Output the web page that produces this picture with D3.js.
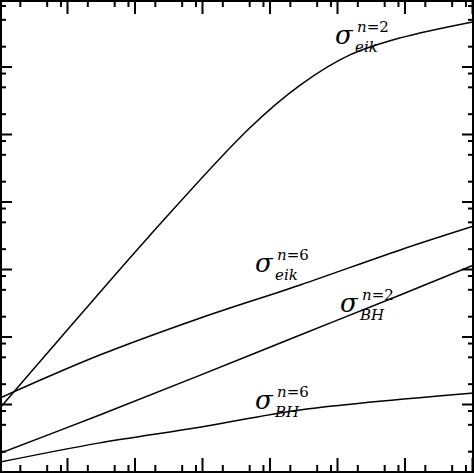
<!DOCTYPE html><html><head><script src="https://cdn.jsdelivr.net/npm/d3@7"></script>
<style>body{margin:0;background:#fff}</style></head><body><svg id="c" width="474" height="474"></svg><script>
const eik2X=[1,5.5,166,5000,2.8e4,1.5e5,8.5e5,1.05e7], eik2Y=[8.9,64,3200,1.25e5,5.4e5,1.5e6,2.7e6,4.7e6];
const eik6X=[1,30,910,2.8e4,8.5e5,1.05e7], eik6Y=[12.5,54,190,590,1950,4400];
const bh2X=[1,30,910,2.8e4,8.5e5,1.05e7], bh2Y=[1.9,7,27,107,420,1170];
const bh6X=[1,30,910,2.8e4,1.05e7], bh6Y=[1.4,2.7,4.6,8.3,14.8];
const labels=[{n:"2",s:"eik",x:335,y:44},{n:"6",s:"eik",x:255,y:272},{n:"2",s:"BH",x:340,y:312},{n:"6",s:"BH",x:255,y:409}];
const svg=d3.select("#c");
const x=d3.scaleLog().domain([1,1e7]).range([0,472.5]);
const y=d3.scaleLog().domain([1,1e7]).range([472,-0.5]);
const ticks=[];for(let e=0;e<7;e++)for(const m of [1,2,5,8])ticks.push(m*10**e);
ticks.push(1e7);
const isMaj=v=>Math.abs(Math.log10(v)%1)<1e-9;
svg.append("g").selectAll("line").data(ticks).join("line").attr("x1",d=>x(d)).attr("x2",d=>x(d)).attr("y1",472).attr("y2",d=>isMaj(d)?458:465).attr("stroke","#000").attr("stroke-width",2);
svg.append("g").selectAll("line").data(ticks).join("line").attr("x1",d=>x(d)).attr("x2",d=>x(d)).attr("y1",0).attr("y2",d=>isMaj(d)?14:7).attr("stroke","#000").attr("stroke-width",2);
svg.append("g").selectAll("line").data(ticks).join("line").attr("y1",d=>y(d)).attr("y2",d=>y(d)).attr("x1",0).attr("x2",d=>isMaj(d)?12:6).attr("stroke","#000").attr("stroke-width",2);
svg.append("g").selectAll("line").data(ticks).join("line").attr("y1",d=>y(d)).attr("y2",d=>y(d)).attr("x1",474).attr("x2",d=>isMaj(d)?462:468).attr("stroke","#000").attr("stroke-width",2);
svg.append("rect").attr("x",1).attr("y",1).attr("width",472).attr("height",471).attr("fill","none").attr("stroke","#000").attr("stroke-width",2);
const line=d3.line().x(d=>x(d[0])).y(d=>y(d[1])).curve(d3.curveCatmullRom.alpha(0.5));
for(const [X,Y] of [[eik2X,eik2Y],[eik6X,eik6Y],[bh2X,bh2Y],[bh6X,bh6Y]])
 svg.append("path").attr("d",line(X.map((v,i)=>[v,Y[i]]))).attr("fill","none").attr("stroke","#000").attr("stroke-width",1.5);
for(const l of labels){
 const g=svg.append("g").attr("font-family","DejaVu Serif").attr("font-style","italic");
 g.append("text").attr("x",l.x).attr("y",l.y).attr("font-size",26).text("σ");
 g.append("text").attr("x",l.x+22).attr("y",l.y-12).attr("font-size",15).text("n=").append("tspan").attr("font-style","normal").text(l.n);
 g.append("text").attr("x",l.x+20).attr("y",l.y+8).attr("font-size",15).text(l.s);
}
</script></body></html>
